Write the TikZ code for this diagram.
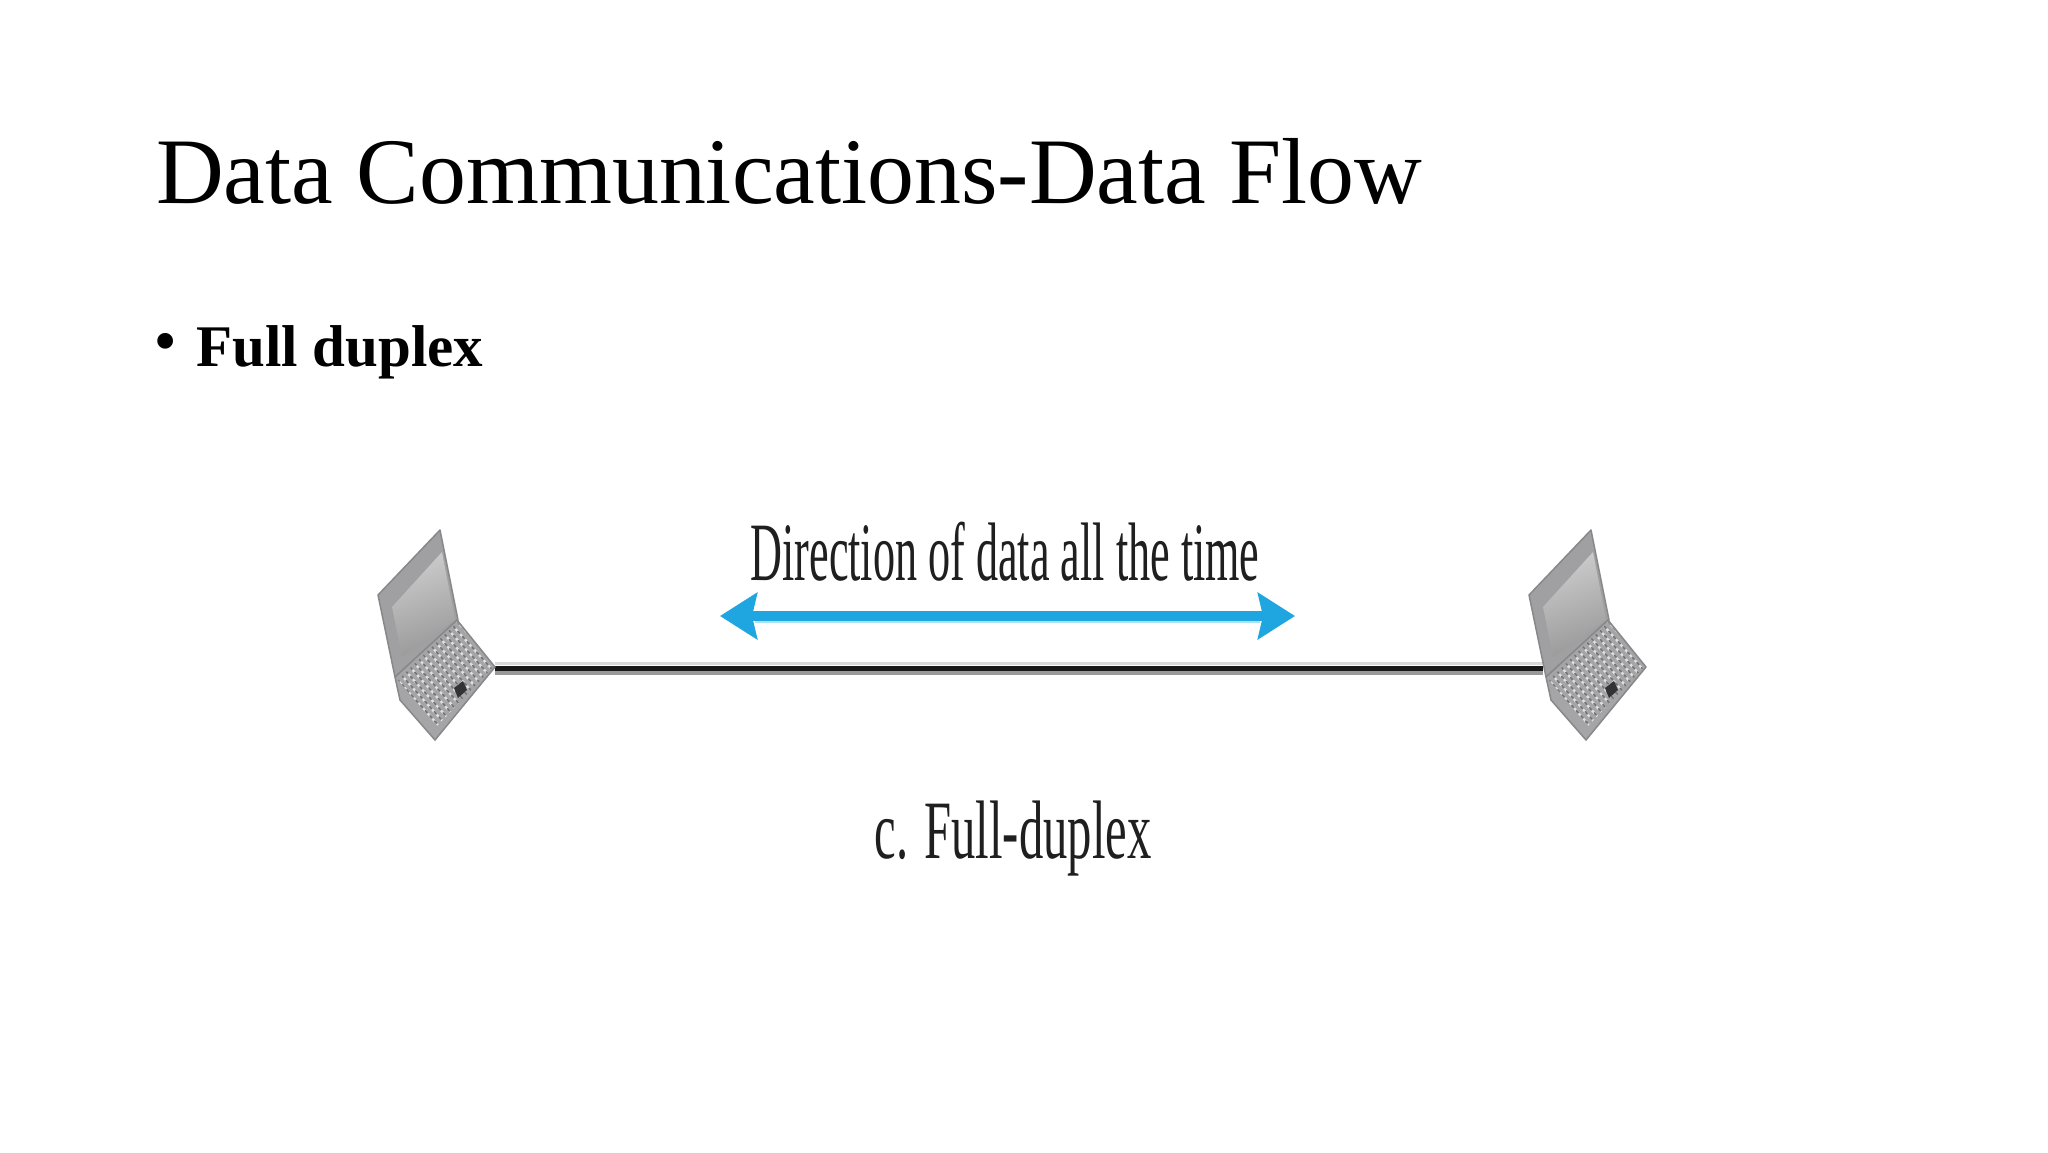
\documentclass[tikz,border=0pt]{standalone}
\usepackage{fontspec}
\setmainfont{Liberation Serif}
\usetikzlibrary{arrows.meta,calc}
\definecolor{flowblue}{HTML}{1FA5DF}
\definecolor{flowhalo}{HTML}{A9E3FA}
\definecolor{shellgrey}{HTML}{A0A0A2}
\definecolor{edgegrey}{HTML}{88888A}
\definecolor{keygrey}{HTML}{A5A5A7}
\tikzset{
  x=1pt,y=-1pt,
  title/.style={anchor=base west,inner sep=0pt,font=\fontsize{93.8}{94}\selectfont,text=black},
  bullettext/.style={anchor=base west,inner sep=0pt,font=\fontsize{59}{59}\selectfont\bfseries,text=black},
  figlabel/.style={anchor=base,inner sep=0pt,text=black!88},
  laptop/.pic={
    % lid
    \fill[shellgrey,draw=edgegrey,line width=1.5pt,line join=round]
      (0,0) -- (-62,65) -- (-45,147) -- (18,90) -- cycle;
    \shade[left color=black!20,right color=black!40,shading angle=20]
      (2,22) -- (-48,77) -- (-38,127) -- (15,90) -- cycle;
    % base
    \fill[keygrey,draw=edgegrey,line width=1.5pt,line join=round]
      (17,90) -- (55,137) -- (-5,210) -- (-40,170) -- (-45,147) -- cycle;
    \begin{scope}
      \clip (17,92) -- (53,137) -- (-3,196) -- (-42,150) -- cycle;
      \foreach \k in {0,...,14}{
        \draw[black!12,line width=2.2pt,dash pattern=on 3.5pt off 3.5pt]
          ($(-45,147)+\k*(4.3,-4.1)$) -- ++(70,78);
        \draw[black!55,line width=1.4pt,dash pattern=on 3.5pt off 3.5pt]
          ($(-43,149)+\k*(4.3,-4.1)$) -- ++(70,78);
      }
    \end{scope}
    \fill[black!80] (14,158) -- (23,151) -- (27,160) -- (18,168) -- cycle;
  }
}
\begin{document}
\begin{tikzpicture}
\useasboundingbox (0,0) rectangle (2048,1152);
\fill[white] (0,0) rectangle (2048,1152);

\node[title] (heading) at (156,203) {Data Communications-Data Flow};
\node[anchor=base,inner sep=0pt,font=\fontsize{58}{58}\selectfont\bfseries] (dot) at (166,360) {•};
\node[bullettext] (item) at (196,366) {Full duplex};

\coordinate (leftport) at (495,668);
\coordinate (rightport) at (1543,668);

\draw[black!15,line width=3pt] ($(leftport)+(0,-4.5)$) -- ($(rightport)+(0,-4.5)$);
\draw[black!40,line width=4pt] ($(leftport)+(0,5)$) -- ($(rightport)+(0,5)$);
\draw[black!90,line width=5pt] (leftport) -- (rightport);

\pic (lefttop) at (440,530) {laptop};
\pic (righttop) at (1591,530) {laptop};

\coordinate (arrowleft) at (720,616);
\coordinate (arrowright) at (1295,616);
\draw[flowhalo,line width=4pt] ($(arrowleft)+(35,5)$) -- ($(arrowright)+(-35,5)$);
\draw[flowblue,line width=10pt,{Stealth[length=37pt,width=46pt,inset=5pt]}-{Stealth[length=37pt,width=46pt,inset=5pt]}] (arrowleft) -- (arrowright);

\node[figlabel] (dirlabel) at (1005,580) {\fontsize{83}{83}\selectfont\scalebox{0.532}[1]{Direction of data all the time}};
\node[figlabel] (caplabel) at (1013,858) {\fontsize{83}{83}\selectfont\scalebox{0.586}[1]{c. Full-duplex}};
\end{tikzpicture}
\end{document}
